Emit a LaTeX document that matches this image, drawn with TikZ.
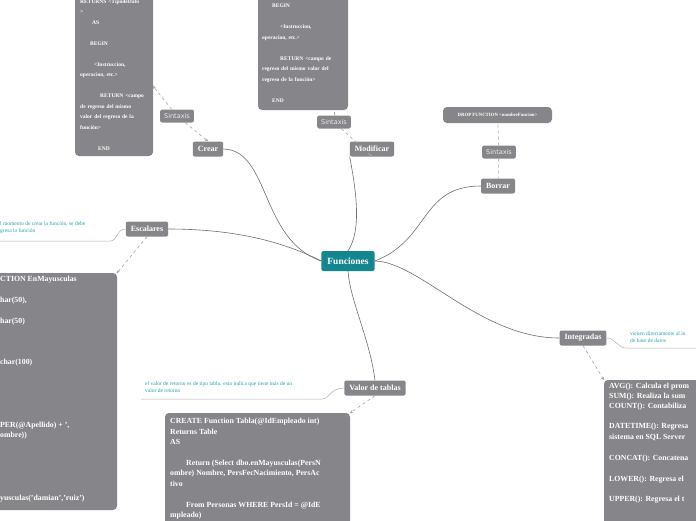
\documentclass[tikz,border=0pt]{standalone}
\usepackage{fontspec}
\setmainfont{Liberation Serif}
\newfontfamily\sxfont{DejaVu Sans}
\usetikzlibrary{arrows.meta}
\definecolor{boxg}{HTML}{86868A}
\definecolor{teal1}{HTML}{14868F}
\definecolor{notec}{HTML}{1FA3AE}
\definecolor{linec}{HTML}{6E6E72}
\tikzset{
  topic/.style={fill=boxg,rounded corners=2pt,text=white,font=\bfseries\fontsize{8}{9}\selectfont,minimum height=15pt,inner xsep=5pt},
  sx/.style={fill=boxg,rounded corners=2pt,text=white!92!black,font=\sxfont\fontsize{6.5}{7}\selectfont,minimum height=13pt,inner xsep=4pt},
  codebox/.style={fill=boxg,rounded corners=4pt},
  code/.style={text=white,font=\bfseries\fontsize{5.5}{10.5}\selectfont,align=left,inner sep=0pt,anchor=north west},
  codeb/.style={text=white,font=\bfseries\fontsize{7.8}{10.4}\selectfont,align=left,inner sep=0pt,anchor=north west},
  note/.style={text=notec,font=\fontsize{5.5}{7}\selectfont,align=left,inner sep=0pt,anchor=north west},
  conn/.style={draw=linec,line width=0.6pt},
  dconn/.style={draw=gray!70,dashed,line width=0.6pt,-{Stealth[length=3pt,width=3pt]}},
  uline/.style={draw=gray!60,line width=0.5pt}
}
\begin{document}
\begin{tikzpicture}[x=1pt,y=-1pt]
\useasboundingbox (0,0) rectangle (696,520);
\clip (0,0) rectangle (696,520);
\fill[white] (0,0) rectangle (696,520);
% code boxes
\fill[codebox] (75,-20) rectangle (153,156);
\node[code,text width=72pt] (crearcode) at (80,-1) {RETURNS <TipodeDato\\>\\\hspace*{12pt}AS\\[10.5pt]\hspace*{10pt}BEGIN\\[10.5pt]\hspace*{14pt}<Instruccion,\\operacion, etc.>\\[10.5pt]\hspace*{20pt}RETURN <campo\\de regreso del mismo\\valor del regreso de la\\función>\\[10.5pt]\hspace*{18pt}END};
\fill[codebox] (258,-20) rectangle (348,110);
\node[code,text width=86pt] (modcode) at (262,4) {\hspace*{10pt}BEGIN\\[10.5pt]\hspace*{18pt}<Instruccion,\\operacion, etc.>\\[10.5pt]\hspace*{18pt}RETURN <campo de\\regreso del mismo valor del\\regreso de la función>\\[10.5pt]\hspace*{10pt}END};
\node[codebox,text=white,font=\bfseries\fontsize{4.8}{5}\selectfont,minimum width=109pt,minimum height=16pt] (dropcode) at (497.5,115) {DROP FUNCTION <nombreFuncion>};
\fill[codebox] (-20,273) rectangle (117,510);
\node[codeb] (esccode) at (0,276) {CTION EnMayusculas\\[10.5pt]har(50),\\[10.5pt]har(50)\\[31pt]char(100)\\[52pt]PER(@Apellido) + ',\\ombre))\\[52pt]yusculas('damian','ruiz')};
\fill[codebox] (165,413) rectangle (350,540);
\node[codeb] (tabcode) at (170,418) {CREATE Function Tabla(@IdEmpleado int)\\Returns Table\\AS\\[10.5pt]\hspace*{16pt}Return (Select dbo.enMayusculas(PersN\\ombre) Nombre, PersFecNacimiento, PersAc\\tivo\\[10.5pt]\hspace*{16pt}From Personas WHERE PersId = @IdE\\mpleado)};
\fill[codebox] (604,380) rectangle (720,540);
\node[codeb] (intcode) at (609,383) {AVG(): Calcula el prom\\[-0.5pt]SUM(): Realiza la sum\\[-0.5pt]COUNT(): Contabiliza\\[10pt]DATETIME(): Regresa\\sistema en SQL Server\\[10.5pt]CONCAT(): Concatena\\[10.5pt]LOWER(): Regresa el\\[10.5pt]UPPER(): Regresa el t};
% topics
\node[topic,fill=teal1,font=\bfseries\fontsize{9.5}{10}\selectfont,minimum height=20pt,inner xsep=6pt] (fun) at (348,261) {Funciones};
\node[topic] (crear) at (208,149) {Crear};
\node[topic] (mod) at (372,149) {Modificar};
\node[topic] (bor) at (498,186) {Borrar};
\node[topic] (esc) at (147,229) {Escalares};
\node[topic] (val) at (375,388) {Valor de tablas};
\node[topic] (int) at (583,338) {Integradas};
\node[sx] (sx1) at (177,116) {Sintaxis};
\node[sx] (sx2) at (334,122) {Sintaxis};
\node[sx] (sx3) at (499,152) {Sintaxis};
% main connectors
\draw[conn] (crear.east) .. controls (270,150) and (260,240) .. (fun.west);
\draw[conn] (esc.east) .. controls (230,229) and (280,240) .. (fun.west);
\draw[conn] (mod.south west) .. controls (356,190) and (362,230) .. (fun.north);
\draw[conn] (bor.west) .. controls (420,186) and (430,240) .. (fun.east);
\draw[conn] (int.west) .. controls (480,338) and (420,262) .. (fun.east);
\draw[conn] (val.north) .. controls (370,340) and (350,300) .. (fun.south);
% dashed
\draw[dconn] (sx1) -- (crear.north);
\draw[dconn] (sx1) -- (153,86);
\draw[dconn] (sx2) -- (mod.south);
\draw[gray!70,dashed,line width=0.6pt] (sx2) -- (334,110);
\draw[gray!70,dashed,line width=0.6pt] (sx3) -- (dropcode);
\draw[gray!70,dashed,line width=0.6pt] (sx3) -- (bor);
\draw[dconn] (esc.south) -- (117,273);
\draw[dconn] (val.south) -- (350,413);
\draw[dconn] (int.south) -- (604,380);
% notes
\node[note] (n1) at (0,221) {l momento de crear la función, se debe\\gresa la función};
\draw[uline] (0,241) -- (110,241) .. controls (118,241) and (116,229) .. (esc.west);
\node[note] (n2) at (145,381) {el valor de retorno es de tipo tabla. esto indica que tiene más de un\\valor de retorno};
\draw[uline] (141,399) -- (322,399) .. controls (330,399) and (330,388) .. (val.west);
\node[note] (n3) at (630,331) {vienen directamente al in\\de base de datos};
\draw[uline] (int.east) .. controls (615,338) and (618,348) .. (626,348) -- (700,348);
\end{tikzpicture}
\end{document}
